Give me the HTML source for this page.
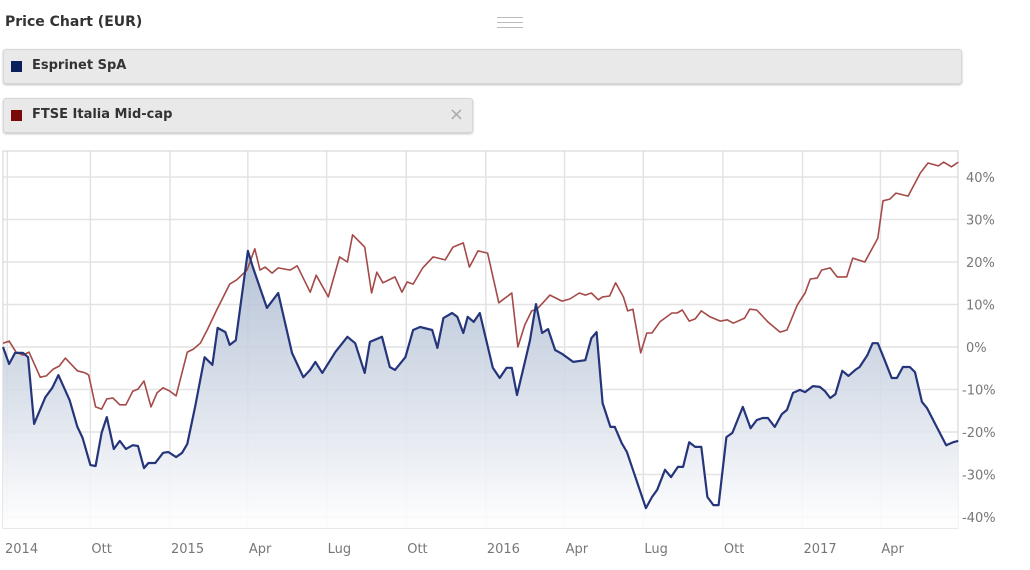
<!DOCTYPE html>
<html><head><meta charset="utf-8">
<style>
body{margin:0;background:#fff;width:1030px;height:570px;overflow:hidden;font-family:"DejaVu Sans",Verdana,sans-serif;}
.title{position:absolute;left:5px;top:14px;font-weight:bold;font-size:14px;color:#333;}
.handle{position:absolute;left:497px;top:17px;width:26px;height:9px;border-top:1px solid #bbb;border-bottom:1px solid #bbb;}
.handle:after{content:"";position:absolute;left:0;right:0;top:4px;border-top:1px solid #bbb;}
.leg{position:absolute;left:3px;height:33px;background:#e9e9e9;border:1px solid #d6d6d6;border-radius:3px;box-shadow:0 1px 2px rgba(0,0,0,0.25);}
.leg .sq{position:absolute;left:7px;top:11px;width:11px;height:11px;}
.leg .t{position:absolute;left:28px;top:8px;font-weight:bold;font-size:13px;color:#333;}
.leg .x{position:absolute;right:8px;top:5px;font-size:18px;color:#aaa;}
</style></head><body>
<div class="title">Price Chart (EUR)</div>
<div class="handle"></div>
<div class="leg" style="top:49px;width:957px"><div class="sq" style="background:#0b1f5c"></div><div class="t">Esprinet SpA</div></div>
<div class="leg" style="top:98px;width:468px"><div class="sq" style="background:#7a0a0a"></div><div class="t">FTSE Italia Mid-cap</div><div class="x">×</div></div>
<svg id="chart" width="1030" height="570" style="position:absolute;left:0;top:0">
<defs><linearGradient id="fillg" x1="0" y1="0" x2="0" y2="1"><stop offset="0" stop-color="#a9b8cf" stop-opacity="0.85"/><stop offset="1" stop-color="#ffffff" stop-opacity="0.9"/></linearGradient></defs>
</svg>
<script>
const espDays=[-193,-186,-179,-170,-164,-157,-144,-136,-129,-116,-107,-101,-92,-86,-79,-73,-65,-58,-51,-43,-37,-30,-25,-17,-8,-2,7,14,20,29,40,49,55,64,69,76,90,96,112,125,141,154,162,168,176,191,205,214,225,231,245,254,260,272,281,289,303,309,316,326,332,339,344,351,358,373,381,389,395,401,408,416,423,430,437,445,453,466,480,487,493,500,509,514,522,528,550,557,563,572,579,587,593,600,607,614,621,628,634,643,650,662,671,678,685,691,699,707,713,720,728,734,743,751,757,763,769,777,784,792,797,806,812,818,826,834,840,847,855,861,869,875,886,897,905,911];
const espValues=[0,-4.0,-1.4,-1.4,-2.4,-18.1,-11.8,-9.6,-6.6,-12.5,-18.8,-21.4,-27.8,-28.0,-20.2,-16.5,-24.0,-22.1,-24.0,-23.1,-23.3,-28.5,-27.3,-27.3,-24.9,-24.7,-25.9,-24.9,-22.8,-14.1,-2.4,-4.2,4.5,3.5,0.5,1.6,22.6,18.6,9.2,12.7,-1.4,-7.1,-5.4,-3.5,-6.1,-1.2,2.4,0.9,-6.1,1.2,2.4,-4.7,-5.4,-2.4,4.0,4.7,4.0,-0.2,6.8,8.0,7.1,3.3,7.1,5.9,8.0,-4.9,-7.3,-4.9,-4.9,-11.3,-5.4,1.6,10.1,3.3,4.2,-0.7,-1.6,-3.5,-3.1,2.1,3.5,-13.2,-18.8,-18.8,-22.6,-24.7,-37.9,-35.3,-33.6,-28.9,-30.6,-28.2,-28.2,-22.4,-23.5,-23.5,-35.3,-37.2,-37.2,-21.2,-20.2,-14.1,-19.1,-17.2,-16.7,-16.7,-18.8,-15.8,-14.8,-10.8,-10.1,-10.6,-9.2,-9.4,-10.4,-12.0,-11.1,-5.6,-6.8,-5.4,-4.7,-1.9,0.9,0.9,-3.1,-7.3,-7.3,-4.7,-4.7,-5.9,-12.9,-14.4,-18.8,-23.1,-22.4,-22.1];
const ftseDays=[-193,-186,-178,-170,-163,-150,-143,-135,-128,-121,-107,-98,-94,-86,-79,-73,-66,-58,-51,-43,-37,-30,-22,-15,-8,0,7,20,27,35,43,54,69,77,89,98,104,110,118,125,139,147,162,169,183,196,205,211,225,233,239,246,260,268,274,281,292,304,318,327,339,346,356,367,380,395,402,410,418,424,431,439,453,462,473,480,487,495,500,508,515,524,529,535,544,551,557,566,580,586,592,600,607,614,624,636,644,651,664,670,678,691,705,713,725,734,740,748,753,763,771,782,789,803,818,824,832,839,853,867,876,888,894,903,911];
const ftseValues=[0.9,1.4,-1.2,-1.9,-1.2,-7.1,-6.8,-5.2,-4.5,-2.6,-5.6,-6.1,-6.6,-14.1,-14.6,-12.2,-12.0,-13.6,-13.6,-10.4,-9.9,-8.0,-14.1,-10.8,-9.6,-10.4,-11.5,-1.2,-0.5,0.9,4.0,8.7,14.8,15.8,18.1,23.1,18.1,18.8,17.4,18.6,18.1,19.1,12.9,16.9,11.8,21.2,20.0,26.4,23.5,12.7,17.6,15.1,16.5,12.9,15.3,14.8,18.6,21.2,20.5,23.5,24.5,18.8,22.6,22.1,10.4,12.7,0,5.2,8.5,8.9,10.4,12.2,10.8,11.3,12.7,12.2,12.7,11.1,11.8,12.0,15.1,11.8,8.5,8.9,-1.4,3.3,3.3,5.9,8.0,8.0,8.7,6.1,6.6,8.5,7.1,6.1,6.4,5.6,6.8,8.9,8.7,5.9,3.5,4.0,9.9,12.7,16.0,16.2,18.1,18.6,16.5,16.5,20.9,20.0,25.6,34.4,34.8,36.2,35.5,40.9,43.3,42.6,43.5,42.4,43.5,42.6];
const yTicks=[40,30,20,10,0,-10,-20,-30,-40];
const xTickDays=[-188,-92,0,90,181,273,365,456,547,639,731,821];
const xTickLabels=["2014","Ott","2015","Apr","Lug","Ott","2016","Apr","Lug","Ott","2017","Apr"];

const L=3,R=958,T=151,B=528;
const xS=d=>170+d*0.8653;
const yS=v=>347-v*4.25;
const svg=document.getElementById('chart');
const NS='http://www.w3.org/2000/svg';
const FONT='DejaVu Sans, Verdana, sans-serif';
function mk(tag,attrs){const e=document.createElementNS(NS,tag);for(const k in attrs)e.setAttribute(k,attrs[k]);svg.appendChild(e);return e;}

yTicks.forEach(v=>{
  const g=mk('line',{x1:L,x2:R,y1:yS(v),y2:yS(v),stroke:'#e3e3e3','stroke-width':1.5});
  
  
  const t=mk('text',{x:v<0?962:966,y:yS(v)+5,'font-size':13,fill:'#777','font-family':FONT});
  t.textContent=v+'%';
  
  
});
xTickDays.forEach((d,i)=>{
  const x=xS(d);
  const g=mk('line',{x1:x,x2:x,y1:T,y2:B,stroke:'#e3e3e3','stroke-width':1.5});
  
  
  const t=mk('text',{x:i===0?5:x+1,y:553,'font-size':13,fill:'#777','font-family':FONT});
  t.textContent=xTickLabels[i];
  
  
});
const border=mk('rect',{x:L,y:T,width:R-L,height:B-T,fill:'none',stroke:'#d0d0d0','stroke-width':1});



const ep=espDays.map((d,i)=>xS(d).toFixed(1)+','+yS(espValues[i]).toFixed(1));
const area=mk('path',{d:'M'+ep.join(' L')+' L'+xS(espDays[espDays.length-1]).toFixed(1)+','+B+' L'+xS(espDays[0]).toFixed(1)+','+B+' Z',fill:'url(#fillg)'});


const fp=ftseDays.map((d,i)=>xS(d).toFixed(1)+','+yS(ftseValues[i]).toFixed(1));
const fl=mk('path',{d:'M'+fp.join(' L'),fill:'none',stroke:'#a44a48','stroke-width':1.6,'stroke-linejoin':'round'});


const el=mk('path',{d:'M'+ep.join(' L'),fill:'none',stroke:'#25357a','stroke-width':2.2,'stroke-linejoin':'round'});


</script>
</body></html>
